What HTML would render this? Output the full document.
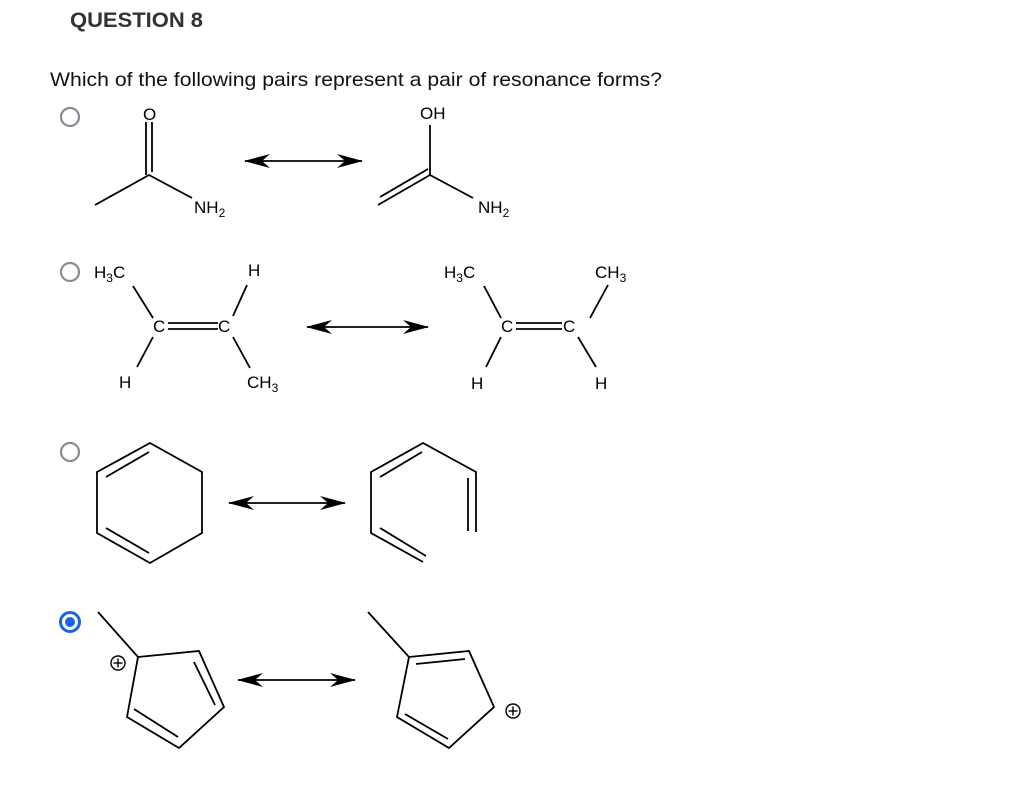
<!DOCTYPE html>
<html><head><meta charset="utf-8"><style>
html,body{margin:0;padding:0;background:#fff;}
svg{display:block;}
</style></head><body>
<svg width="1024" height="786" viewBox="0 0 1024 786" xmlns="http://www.w3.org/2000/svg" font-family="Liberation Sans, Arial, sans-serif">
<defs>
<marker id="ah" viewBox="0 0 26 14" refX="25" refY="7" markerWidth="26" markerHeight="14" markerUnits="userSpaceOnUse" orient="auto-start-reverse">
<path d="M0,0 L26,7 L0,14 L8,7 Z" fill="#000"/>
</marker>
</defs>
<text x="70" y="27" font-size="21" font-weight="bold" fill="#333" textLength="133" lengthAdjust="spacingAndGlyphs">QUESTION 8</text>
<text x="50" y="86" font-size="19.5" fill="#111" textLength="612" lengthAdjust="spacingAndGlyphs">Which of the following pairs represent a pair of resonance forms?</text>

<!-- radios -->
<circle cx="70" cy="117" r="9" fill="none" stroke="#8a8a95" stroke-width="2.2"/>
<circle cx="70" cy="272" r="9" fill="none" stroke="#8a8a95" stroke-width="2.2"/>
<circle cx="70" cy="452" r="9" fill="none" stroke="#8a8a95" stroke-width="2.2"/>
<circle cx="70" cy="622" r="9.5" fill="none" stroke="#1a66e0" stroke-width="3"/>
<circle cx="70" cy="622" r="5" fill="#1a66e0"/>

<g stroke="#000" stroke-width="1.8" fill="none">
<!-- row1 left -->
<line x1="146" y1="122" x2="146" y2="175"/><line x1="152" y1="122" x2="152" y2="172"/>
<polyline points="95,205 149,175 192,198"/>
<line x1="245" y1="161" x2="362" y2="161" marker-start="url(#ah)" marker-end="url(#ah)"/>
<!-- row1 right -->
<line x1="430" y1="125" x2="430" y2="175"/>
<line x1="430" y1="175" x2="378" y2="205"/><line x1="428" y1="169" x2="380" y2="197"/>
<line x1="430" y1="175" x2="473" y2="198"/>

<!-- row2 left -->
<line x1="133" y1="286" x2="153" y2="318"/>
<line x1="168" y1="323" x2="218" y2="323"/><line x1="168" y1="329" x2="218" y2="329"/>
<line x1="247" y1="285" x2="233" y2="316"/>
<line x1="153" y1="337" x2="137" y2="367"/>
<line x1="233" y1="337" x2="250" y2="368"/>
<line x1="307" y1="327" x2="428" y2="327" marker-start="url(#ah)" marker-end="url(#ah)"/>
<!-- row2 right -->
<line x1="484" y1="286" x2="501" y2="318"/>
<line x1="516" y1="323" x2="562" y2="323"/><line x1="516" y1="329" x2="562" y2="329"/>
<line x1="608" y1="285" x2="590" y2="318"/>
<line x1="501" y1="337" x2="486" y2="367"/>
<line x1="578" y1="337" x2="596" y2="367"/>

<!-- row3 left hexagon -->
<polygon points="150,443 202,472 202,533 150,563 97,533 97,472"/>
<line x1="106" y1="477" x2="149" y2="452"/>
<line x1="106" y1="528" x2="149" y2="553"/>
<line x1="229" y1="503" x2="345" y2="503" marker-start="url(#ah)" marker-end="url(#ah)"/>
<!-- row3 right -->
<polyline points="423,562 371,533 371,472 423,443 476,472 476,532"/>
<line x1="380" y1="477" x2="422" y2="452"/>
<line x1="380" y1="528" x2="426" y2="556"/>
<line x1="468" y1="478" x2="468" y2="531"/>

<!-- row4 left -->
<line x1="98" y1="612" x2="138" y2="657"/>
<polygon points="138,657 199,651 224,707 179,748 127,717"/>
<line x1="194" y1="662" x2="215" y2="705"/>
<line x1="134" y1="709" x2="178" y2="737"/>
<circle cx="118" cy="663" r="7" stroke-width="1.4"/>
<line x1="113.5" y1="663" x2="122.5" y2="663" stroke-width="1.4"/><line x1="118" y1="658.5" x2="118" y2="667.5" stroke-width="1.4"/>
<line x1="238" y1="680" x2="355" y2="680" marker-start="url(#ah)" marker-end="url(#ah)"/>
<!-- row4 right -->
<line x1="368" y1="612" x2="409" y2="657"/>
<polygon points="409,657 469,651 494,707 449,748 397,717"/>
<line x1="416" y1="664" x2="465" y2="659"/>
<line x1="405" y1="714" x2="448" y2="739"/>
<circle cx="513" cy="711" r="7" stroke-width="1.4"/>
<line x1="508.5" y1="711" x2="517.5" y2="711" stroke-width="1.4"/><line x1="513" y1="706.5" x2="513" y2="715.5" stroke-width="1.4"/>
</g>

<g font-size="17" fill="#000">
<text x="143" y="120">O</text>
<text x="194" y="213">NH<tspan font-size="12" dy="4">2</tspan></text>
<text x="420" y="119">OH</text>
<text x="478" y="213">NH<tspan font-size="12" dy="4">2</tspan></text>

<text x="94" y="278">H<tspan font-size="12" dy="4">3</tspan><tspan dy="-4">C</tspan></text>
<text x="248" y="276">H</text>
<text x="153" y="332">C</text>
<text x="218" y="332">C</text>
<text x="119" y="388">H</text>
<text x="247" y="388">CH<tspan font-size="12" dy="4">3</tspan></text>

<text x="444" y="278">H<tspan font-size="12" dy="4">3</tspan><tspan dy="-4">C</tspan></text>
<text x="595" y="278">CH<tspan font-size="12" dy="4">3</tspan></text>
<text x="501" y="332">C</text>
<text x="563" y="332">C</text>
<text x="471" y="389">H</text>
<text x="595" y="389">H</text>
</g>
</svg>
</body></html>
